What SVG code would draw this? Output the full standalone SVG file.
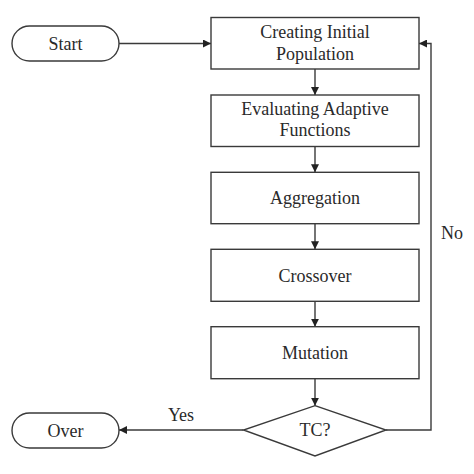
<svg xmlns="http://www.w3.org/2000/svg" width="474" height="474" viewBox="0 0 474 474">
<defs>
<style>
.box{fill:#fff;stroke:#3a3a3a;stroke-width:1.4}
.ln{fill:none;stroke:#3a3a3a;stroke-width:1.4}
.t{font-family:'Liberation Serif','Times New Roman','DejaVu Serif',serif;font-size:18px;fill:#2a2a2a;text-anchor:middle}
</style>
<marker id="ah" viewBox="0 0 10 10" refX="10" refY="5" markerWidth="8" markerHeight="8" markerUnits="userSpaceOnUse" orient="auto">
<path d="M0,0 L10,5 L0,10 Z" fill="#222"/>
</marker>
</defs>
<rect width="474" height="474" fill="#fff"/>
<g id="connectors">
<line class="ln" x1="119" y1="43.5" x2="211" y2="43.5" marker-end="url(#ah)"/>
<line class="ln" x1="315" y1="69" x2="315" y2="95" marker-end="url(#ah)"/>
<line class="ln" x1="315" y1="146.5" x2="315" y2="172.3" marker-end="url(#ah)"/>
<line class="ln" x1="315" y1="223.7" x2="315" y2="249.3" marker-end="url(#ah)"/>
<line class="ln" x1="315" y1="301.3" x2="315" y2="326.7" marker-end="url(#ah)"/>
<line class="ln" x1="315" y1="378.7" x2="315" y2="405.7" marker-end="url(#ah)"/>
<line class="ln" x1="243.5" y1="430" x2="119" y2="430" marker-end="url(#ah)"/>
<polyline class="ln" points="386,430 431,430 431,43.5 419,43.5" marker-end="url(#ah)"/>
<text class="t" font-family="Liberation Serif, serif" x="181" y="421">Yes</text>
<text class="t" font-family="Liberation Serif, serif" x="452" y="239">No</text>
</g>
<g id="start">
<rect class="box" x="12" y="26" width="107" height="35" rx="17.5" ry="17.5"/>
<text class="t" font-family="Liberation Serif, serif" x="65.5" y="49.5">Start</text>
</g>
<g id="create">
<rect class="box" x="211" y="17.5" width="208" height="51.5"/>
<text class="t" font-family="Liberation Serif, serif" x="315" y="37.5">Creating Initial</text>
<text class="t" font-family="Liberation Serif, serif" x="315" y="59.5">Population</text>
</g>
<g id="evaluate">
<rect class="box" x="211" y="95" width="208" height="51.5"/>
<text class="t" font-family="Liberation Serif, serif" x="315" y="114.5">Evaluating Adaptive</text>
<text class="t" font-family="Liberation Serif, serif" x="315" y="136">Functions</text>
</g>
<g id="aggregation">
<rect class="box" x="211" y="172.3" width="208" height="51.4"/>
<text class="t" font-family="Liberation Serif, serif" x="315" y="204">Aggregation</text>
</g>
<g id="crossover">
<rect class="box" x="211" y="249.3" width="208" height="52"/>
<text class="t" font-family="Liberation Serif, serif" x="315" y="281.5">Crossover</text>
</g>
<g id="mutation">
<rect class="box" x="211" y="326.7" width="208" height="52"/>
<text class="t" font-family="Liberation Serif, serif" x="315" y="358.5">Mutation</text>
</g>
<g id="tc">
<polygon class="box" points="315,405.7 386,430 315,456 243.5,430"/>
<text class="t" font-family="Liberation Serif, serif" x="315" y="436">TC?</text>
</g>
<g id="over">
<rect class="box" x="12" y="413" width="107" height="35" rx="17.5" ry="17.5"/>
<text class="t" font-family="Liberation Serif, serif" x="65.5" y="436.5">Over</text>
</g>
</svg>
